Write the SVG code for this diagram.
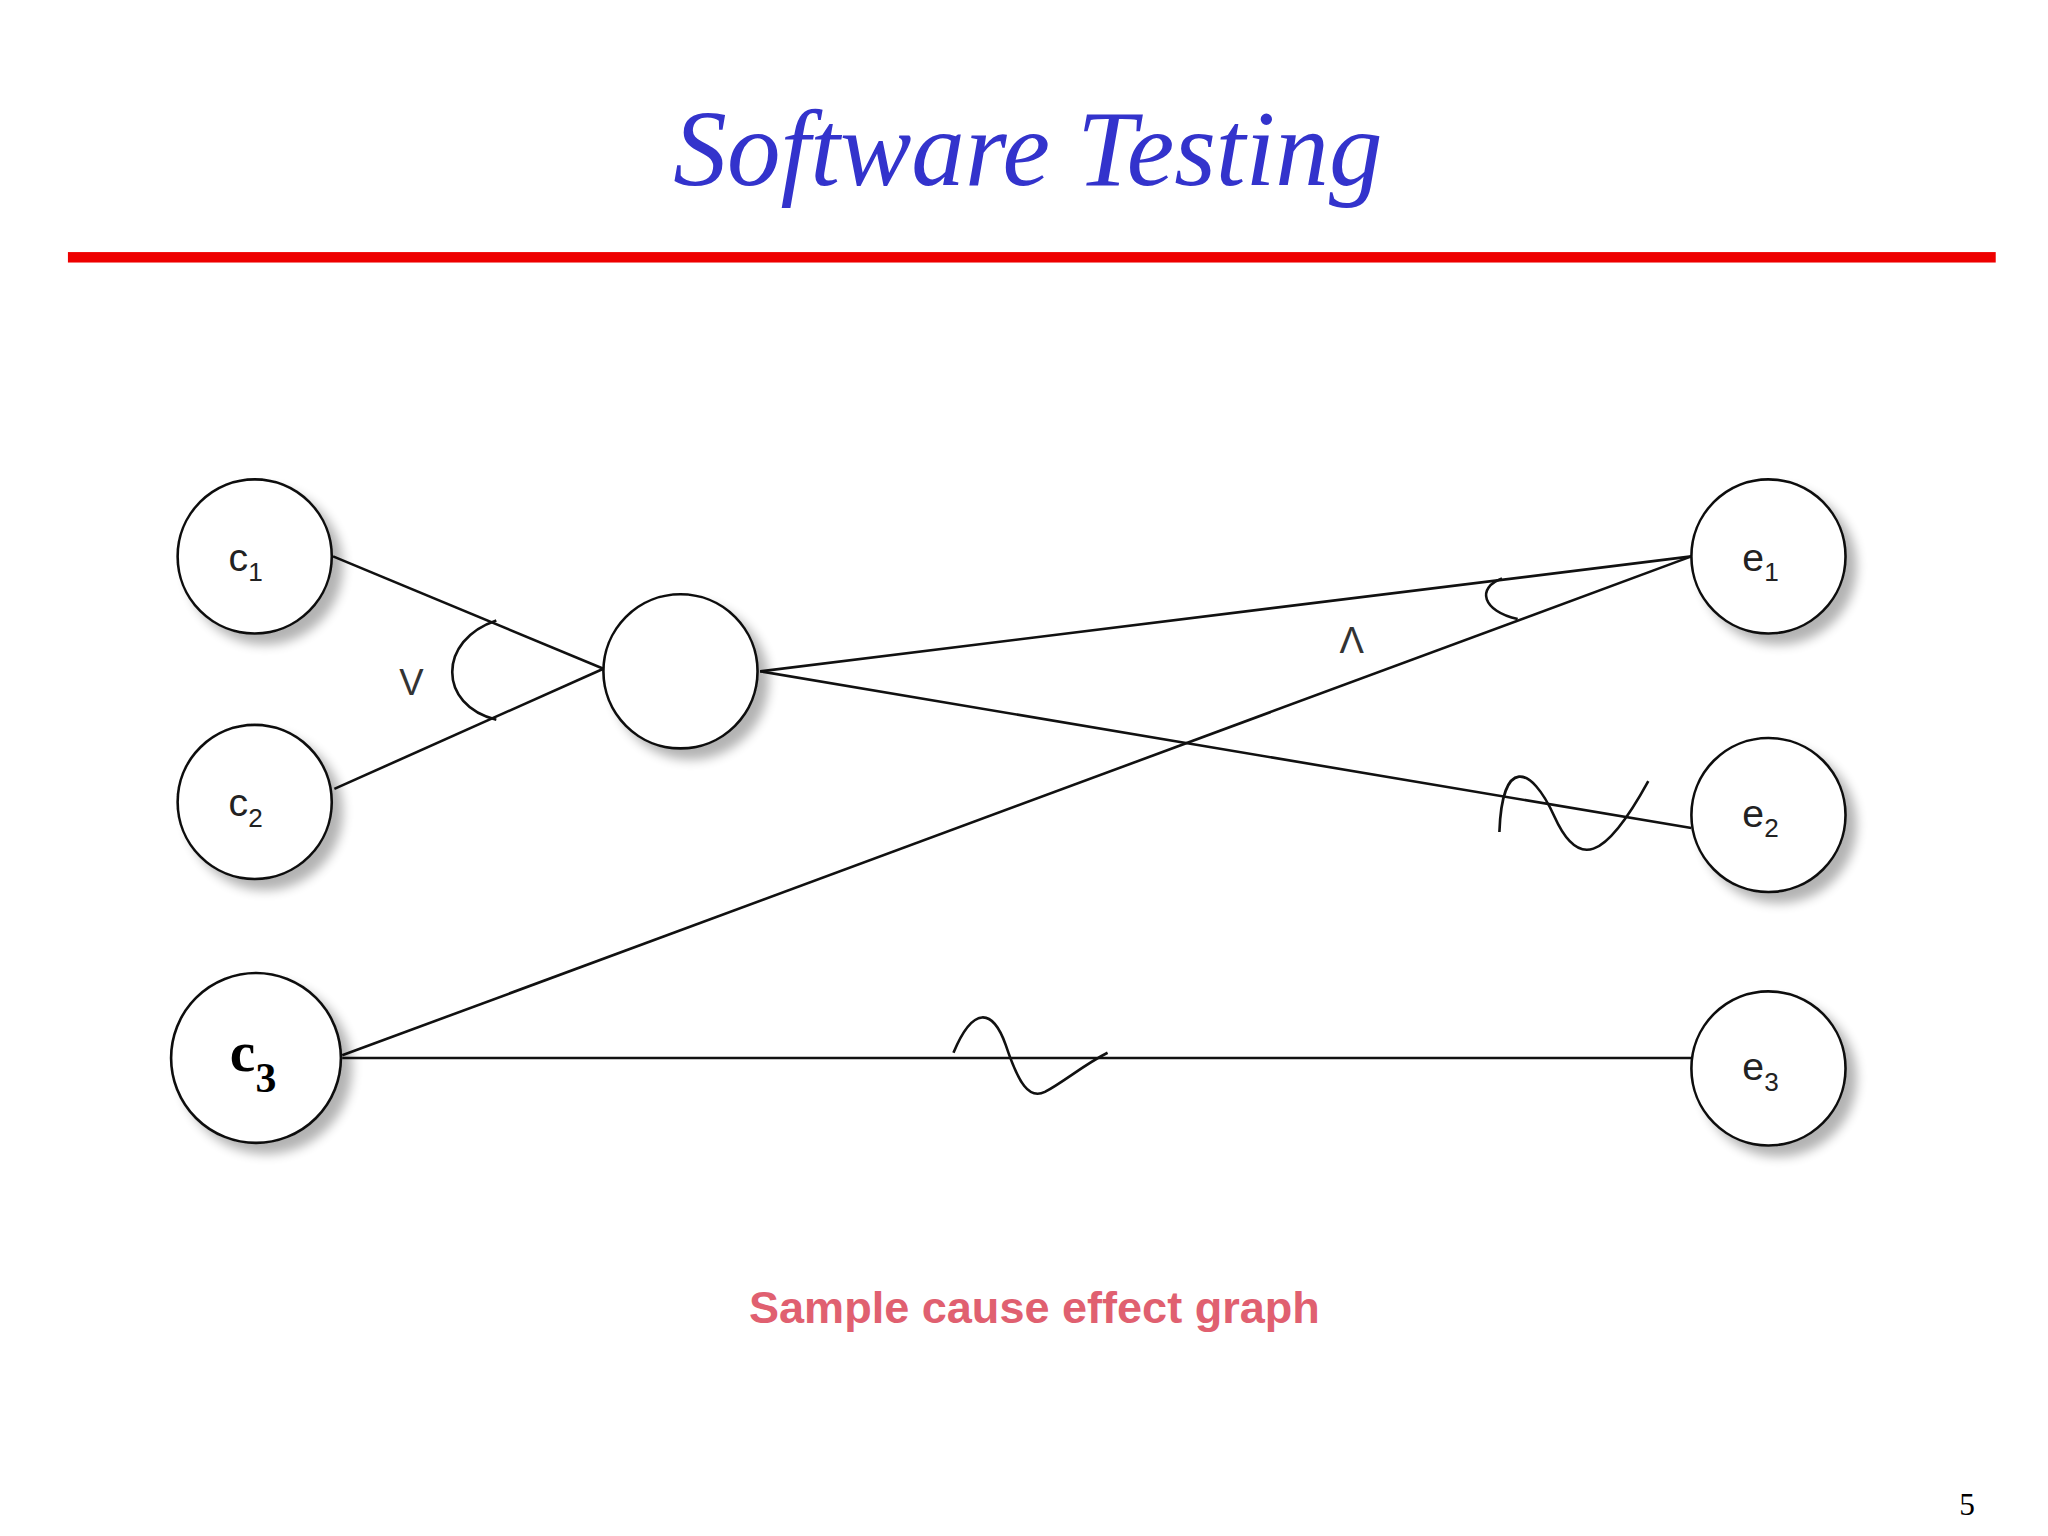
<svg xmlns="http://www.w3.org/2000/svg" width="2048" height="1536" viewBox="0 0 2048 1536">
<defs>
<filter id="sh" x="-30%" y="-30%" width="160%" height="160%"><feGaussianBlur in="SourceAlpha" stdDeviation="4"/><feOffset dx="8" dy="8"/><feComponentTransfer><feFuncA type="linear" slope="0.3"/></feComponentTransfer><feMerge><feMergeNode/><feMergeNode in="SourceGraphic"/></feMerge></filter>
</defs>
<style>
.n{fill:#fff;stroke:#111;stroke-width:2}
.l{fill:none;stroke:#111;stroke-width:2}
.t{font-family:"Liberation Sans",Arial,sans-serif;font-size:30px;fill:#222}
.s{font-size:20px}
</style>
<rect width="2048" height="1536" fill="#fff"/>
<g transform="scale(1.3061)">
<text x="787" y="142" text-anchor="middle" font-family="Liberation Serif,serif" font-style="italic" font-size="82" fill="#3333CC">Software Testing</text>
<rect x="52" y="193" width="1476" height="8" fill="#EE0000"/>
<g id="connectors">
<line class="l" x1="255" y1="426" x2="462" y2="512"/>
<line class="l" x1="256" y1="604" x2="462" y2="512"/>
<path class="l" d="M380,475 C335,490 335,540 380,551"/>
<text x="315" y="532" text-anchor="middle" font-family="Liberation Sans,sans-serif" font-size="28" fill="#333">V</text>
<line class="l" x1="582" y1="514" x2="1295" y2="426"/>
<line class="l" x1="582" y1="514" x2="1295" y2="634"/>
<line class="l" x1="262" y1="808" x2="1295" y2="426"/>
<line class="l" x1="262" y1="810" x2="1295" y2="810"/>
<path class="l" d="M1150,443 C1130,450 1135,468 1162,474"/>
<text x="1035" y="500" text-anchor="middle" font-family="Liberation Sans,sans-serif" font-size="28" fill="#333">Λ</text>
<path class="l" d="M1148,637 C1150,580 1172,585 1190,625 C1208,665 1228,660 1262,598"/>
<path class="l" d="M730,806 C745,770 760,772 770,800 C780,830 788,842 800,836 C815,828 830,815 848,806"/>
</g>
<g id="c1"><circle class="n" cx="195" cy="426" r="59" filter="url(#sh)"/><text class="t" x="175" y="437">c<tspan class="s" dy="8">1</tspan></text></g>
<g id="c2"><circle class="n" cx="195" cy="614" r="59" filter="url(#sh)"/><text class="t" x="175" y="625">c<tspan class="s" dy="8">2</tspan></text></g>
<g id="c3"><circle class="n" cx="196" cy="810" r="65" filter="url(#sh)"/><text x="176" y="820" font-family="Liberation Serif,serif" font-weight="bold" font-size="44" fill="#000">c<tspan font-size="32" dy="16">3</tspan></text></g>
<g id="mid"><circle class="n" cx="521" cy="514" r="59" filter="url(#sh)"/></g>
<g id="e1"><circle class="n" cx="1354" cy="426" r="59" filter="url(#sh)"/><text class="t" x="1334" y="437">e<tspan class="s" dy="8">1</tspan></text></g>
<g id="e2"><circle class="n" cx="1354" cy="624" r="59" filter="url(#sh)"/><text class="t" x="1334" y="633">e<tspan class="s" dy="8">2</tspan></text></g>
<g id="e3"><circle class="n" cx="1354" cy="818" r="59" filter="url(#sh)"/><text class="t" x="1334" y="827">e<tspan class="s" dy="8">3</tspan></text></g>
<text x="792" y="1013" text-anchor="middle" font-family="Liberation Sans,Arial,sans-serif" font-weight="bold" font-size="34.5" fill="#E06070">Sample cause effect graph</text>
<text x="1506" y="1160" text-anchor="middle" font-family="Liberation Serif,serif" font-size="24" fill="#000">5</text>
</g>
</svg>
